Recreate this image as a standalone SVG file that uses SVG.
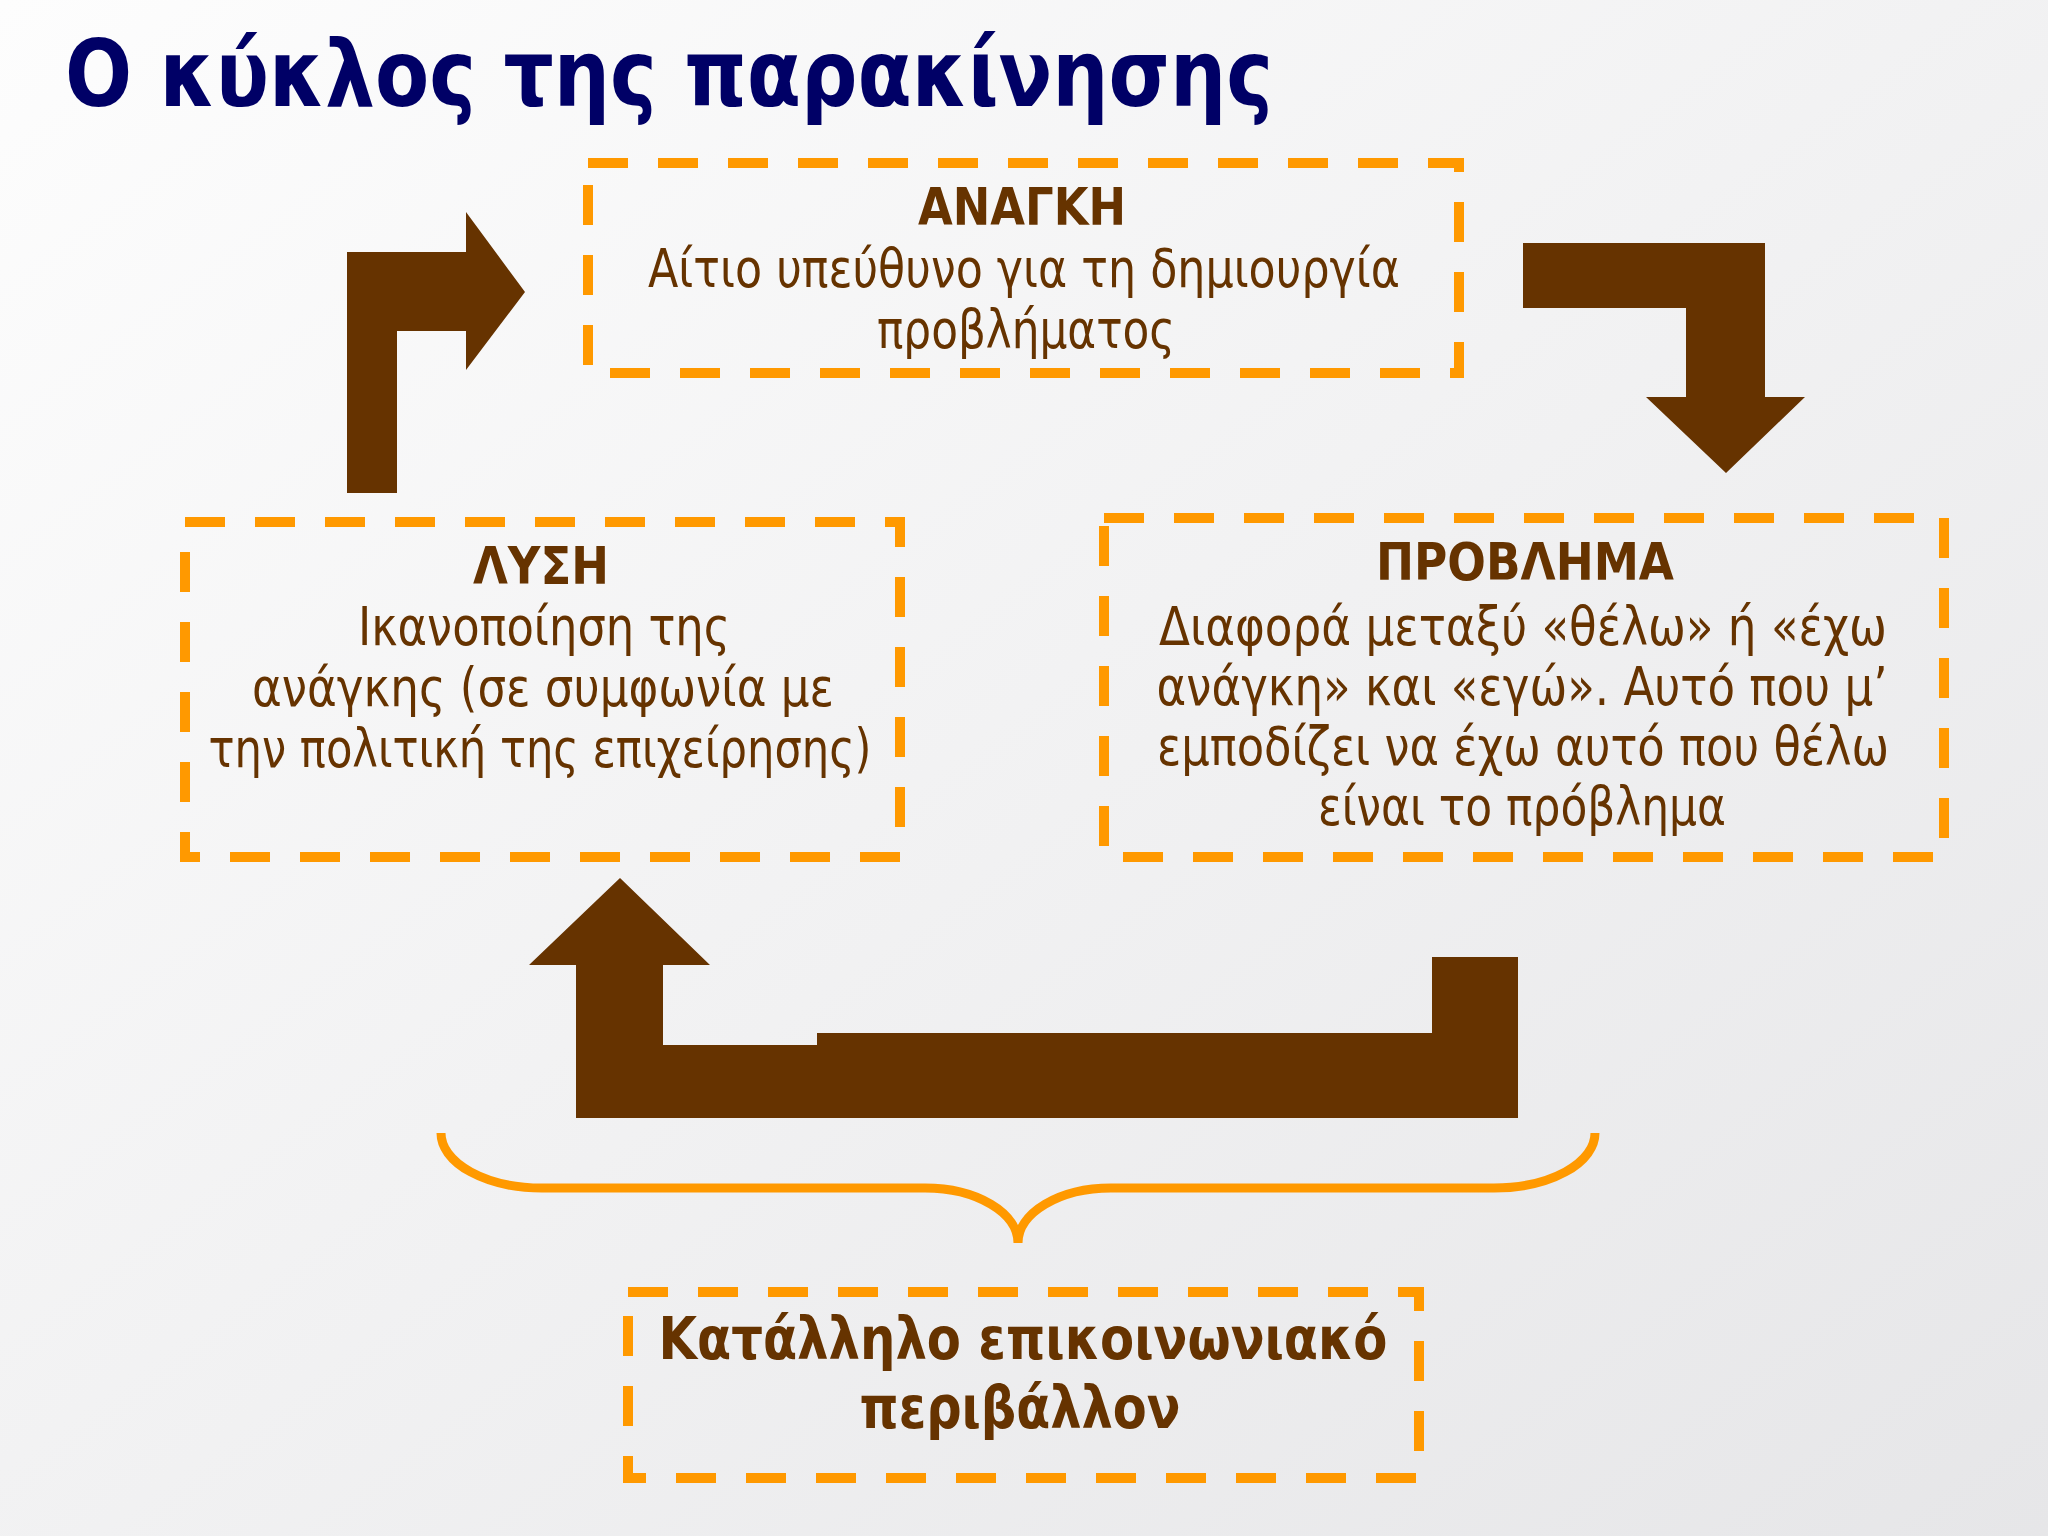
<svg xmlns="http://www.w3.org/2000/svg" width="2048" height="1536" viewBox="0 0 2048 1536">
<defs>
<linearGradient id="bg" x1="0" y1="0" x2="1" y2="1">
<stop offset="0" stop-color="#fdfdfd"/>
<stop offset="1" stop-color="#e6e6e8"/>
</linearGradient>
<style>
.box{fill:none;stroke:#ff9900;stroke-width:10;stroke-dasharray:40 30}
.arrow{fill:#663300}
.brace{fill:none;stroke:#ff9900;stroke-width:9;stroke-linecap:butt}
.t{font-family:"DejaVu Sans Condensed","DejaVu Sans","Liberation Sans",sans-serif;font-stretch:condensed;font-size:54px;fill:#663300;text-anchor:middle}
.h{font-weight:bold;font-size:52px}
.big{font-size:58px;font-weight:bold}
.title{font-family:"DejaVu Sans","Liberation Sans",sans-serif;font-weight:bold;font-size:92px;fill:#000066}
</style>
</defs>
<rect x="0" y="0" width="2048" height="1536" fill="url(#bg)"/>
<text class="title" x="65" y="106" textLength="1208" lengthAdjust="spacingAndGlyphs">Ο κύκλος της παρακίνησης</text>

<g id="connectors">
<polygon class="arrow" points="347,493 347,252 466,252 466,212 525,292 466,370 466,331 397,331 397,493"/>
<polygon class="arrow" points="1523,243 1765,243 1765,397 1805,397 1726,473 1646,397 1686,397 1686,308 1523,308"/>
<polygon class="arrow" points="576,1118 1518,1118 1518,957 1432,957 1432,1033 817,1033 817,1045 663,1045 663,965 710,965 620,878 529,965 576,965"/>
<path class="brace" d="M441,1133 A101,55 0 0 0 542,1188 L925,1188 A93,55 0 0 1 1018,1243 A93,55 0 0 1 1111,1188 L1494,1188 A101,55 0 0 0 1595,1133"/>
</g>

<g id="anagki">
<rect class="box" x="588" y="163" width="871" height="210"/>
<text class="t h" x="1022" y="225" textLength="208" lengthAdjust="spacingAndGlyphs">ΑΝΑΓΚΗ</text>
<text class="t" x="1024" y="287" textLength="752" lengthAdjust="spacingAndGlyphs">Αίτιο υπεύθυνο για τη δημιουργία</text>
<text class="t" x="1026" y="348" textLength="298" lengthAdjust="spacingAndGlyphs">προβλήματος</text>
</g>

<g id="lysi">
<rect class="box" x="185" y="522" width="715" height="335"/>
<text class="t h" x="541" y="584" textLength="136" lengthAdjust="spacingAndGlyphs">ΛΥΣΗ</text>
<text class="t" x="544" y="645" textLength="372" lengthAdjust="spacingAndGlyphs">Ικανοποίηση της</text>
<text class="t" x="543" y="706" textLength="582" lengthAdjust="spacingAndGlyphs">ανάγκης (σε συμφωνία με</text>
<text class="t" x="540" y="767" textLength="663" lengthAdjust="spacingAndGlyphs">την πολιτική της επιχείρησης)</text>
</g>

<g id="provlima">
<rect class="box" x="1104" y="518" width="840" height="339"/>
<text class="t h" x="1525" y="580" textLength="298" lengthAdjust="spacingAndGlyphs">ΠΡΟΒΛΗΜΑ</text>
<text class="t" x="1523" y="645" textLength="728" lengthAdjust="spacingAndGlyphs">Διαφορά μεταξύ «θέλω» ή «έχω</text>
<text class="t" x="1522" y="705" textLength="731" lengthAdjust="spacingAndGlyphs">ανάγκη» και «εγώ». Αυτό που μ’</text>
<text class="t" x="1523" y="765" textLength="732" lengthAdjust="spacingAndGlyphs">εμποδίζει να έχω αυτό που θέλω</text>
<text class="t" x="1522" y="825" textLength="408" lengthAdjust="spacingAndGlyphs">είναι το πρόβλημα</text>
</g>

<g id="perivallon">
<rect class="box" x="628" y="1292" width="791" height="186"/>
<text class="t big" x="1023" y="1359" textLength="729" lengthAdjust="spacingAndGlyphs">Κατάλληλο επικοινωνιακό</text>
<text class="t big" x="1020" y="1428" textLength="321" lengthAdjust="spacingAndGlyphs">περιβάλλον</text>
</g>
</svg>
